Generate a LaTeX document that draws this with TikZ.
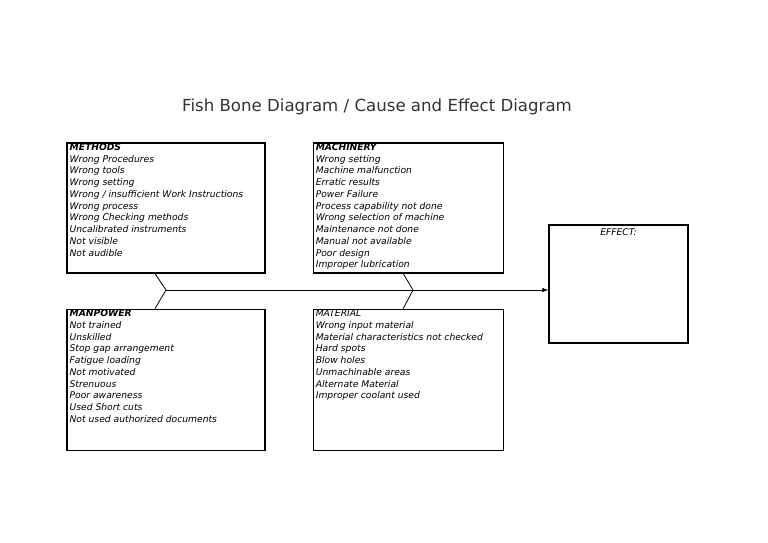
\documentclass[tikz,border=0pt]{standalone}
\usepackage{fontspec}
\setmainfont{DejaVu Sans}
\usetikzlibrary{positioning, arrows.meta}

\tikzset{
	title/.style={font=\fontsize{16.6}{20}\selectfont, text=black!80},
	causebox/.style={draw, line width=1.2pt, inner sep=0pt},
	causelist/.style={anchor=north west, align=left, inner sep=0pt, font=\fontsize{9.2}{11.75}\selectfont\itshape},
	bone/.style={line width=0.8pt}
}

\begin{document}
\begin{tikzpicture}[x=1pt, y=-1pt]
	\useasboundingbox (0,0) rectangle (768,543);
	\node[title] (heading) at (377,107) {Fish Bone Diagram / Cause and Effect Diagram};
	\node[causebox, minimum width=198pt, minimum height=130pt] (methods) at (166,208) {};
	\node[causebox, minimum width=190pt, minimum height=130pt, right=47pt of methods] (machinery) {};
	\node[causebox, minimum width=198pt, minimum height=141pt, below=35pt of methods] (manpower) {};
	\node[causebox, minimum width=190pt, minimum height=141pt, below=35pt of machinery] (material) {};
	\node[causebox, minimum width=139pt, minimum height=118pt] (effect) at (618.5,284) {};
	\node[causelist] (methodslist) at ([xshift=3pt, yshift=-1pt]methods.north west) {\textbf{METHODS}\\Wrong Procedures\\Wrong tools\\Wrong setting\\Wrong / insufficient Work Instructions\\Wrong process\\Wrong Checking methods\\Uncalibrated instruments\\Not visible\\Not audible};
	\node[causelist] (machinerylist) at ([xshift=3pt, yshift=-1pt]machinery.north west) {\textbf{MACHINERY}\\Wrong setting\\Machine malfunction\\Erratic results\\Power Failure\\Process capability not done\\Wrong selection of machine\\Maintenance not done\\Manual not available\\Poor design\\Improper lubrication};
	\node[causelist] (manpowerlist) at ([xshift=3pt, yshift=-1pt]manpower.north west) {\textbf{MANPOWER}\\Not trained\\Unskilled\\Stop gap arrangement\\Fatigue loading\\Not motivated\\Strenuous\\Poor awareness\\Used Short cuts\\Not used authorized documents};
	\node[causelist] (materiallist) at ([xshift=3pt, yshift=-1pt]material.north west) {MATERIAL\\Wrong input material\\Material characteristics not checked\\Hard spots\\Blow holes\\Unmachinable areas\\Alternate Material\\Improper coolant used};
	\node[causelist, anchor=north] (effectlabel) at ([yshift=-4pt]effect.north) {EFFECT:};
	\coordinate (upperjoint) at (166,290);
	\coordinate (lowerjoint) at (413,290);
	\draw[bone] ([xshift=-11pt]methods.south) -- (upperjoint) -- ([xshift=-11pt]manpower.north);
	\draw[bone] ([xshift=-5pt]machinery.south) -- (lowerjoint) -- ([xshift=-5pt]material.north);
	\draw[bone, -{Latex[length=6pt, width=4.5pt]}] (upperjoint) -- (upperjoint -| effect.west);
\end{tikzpicture}
\end{document}
